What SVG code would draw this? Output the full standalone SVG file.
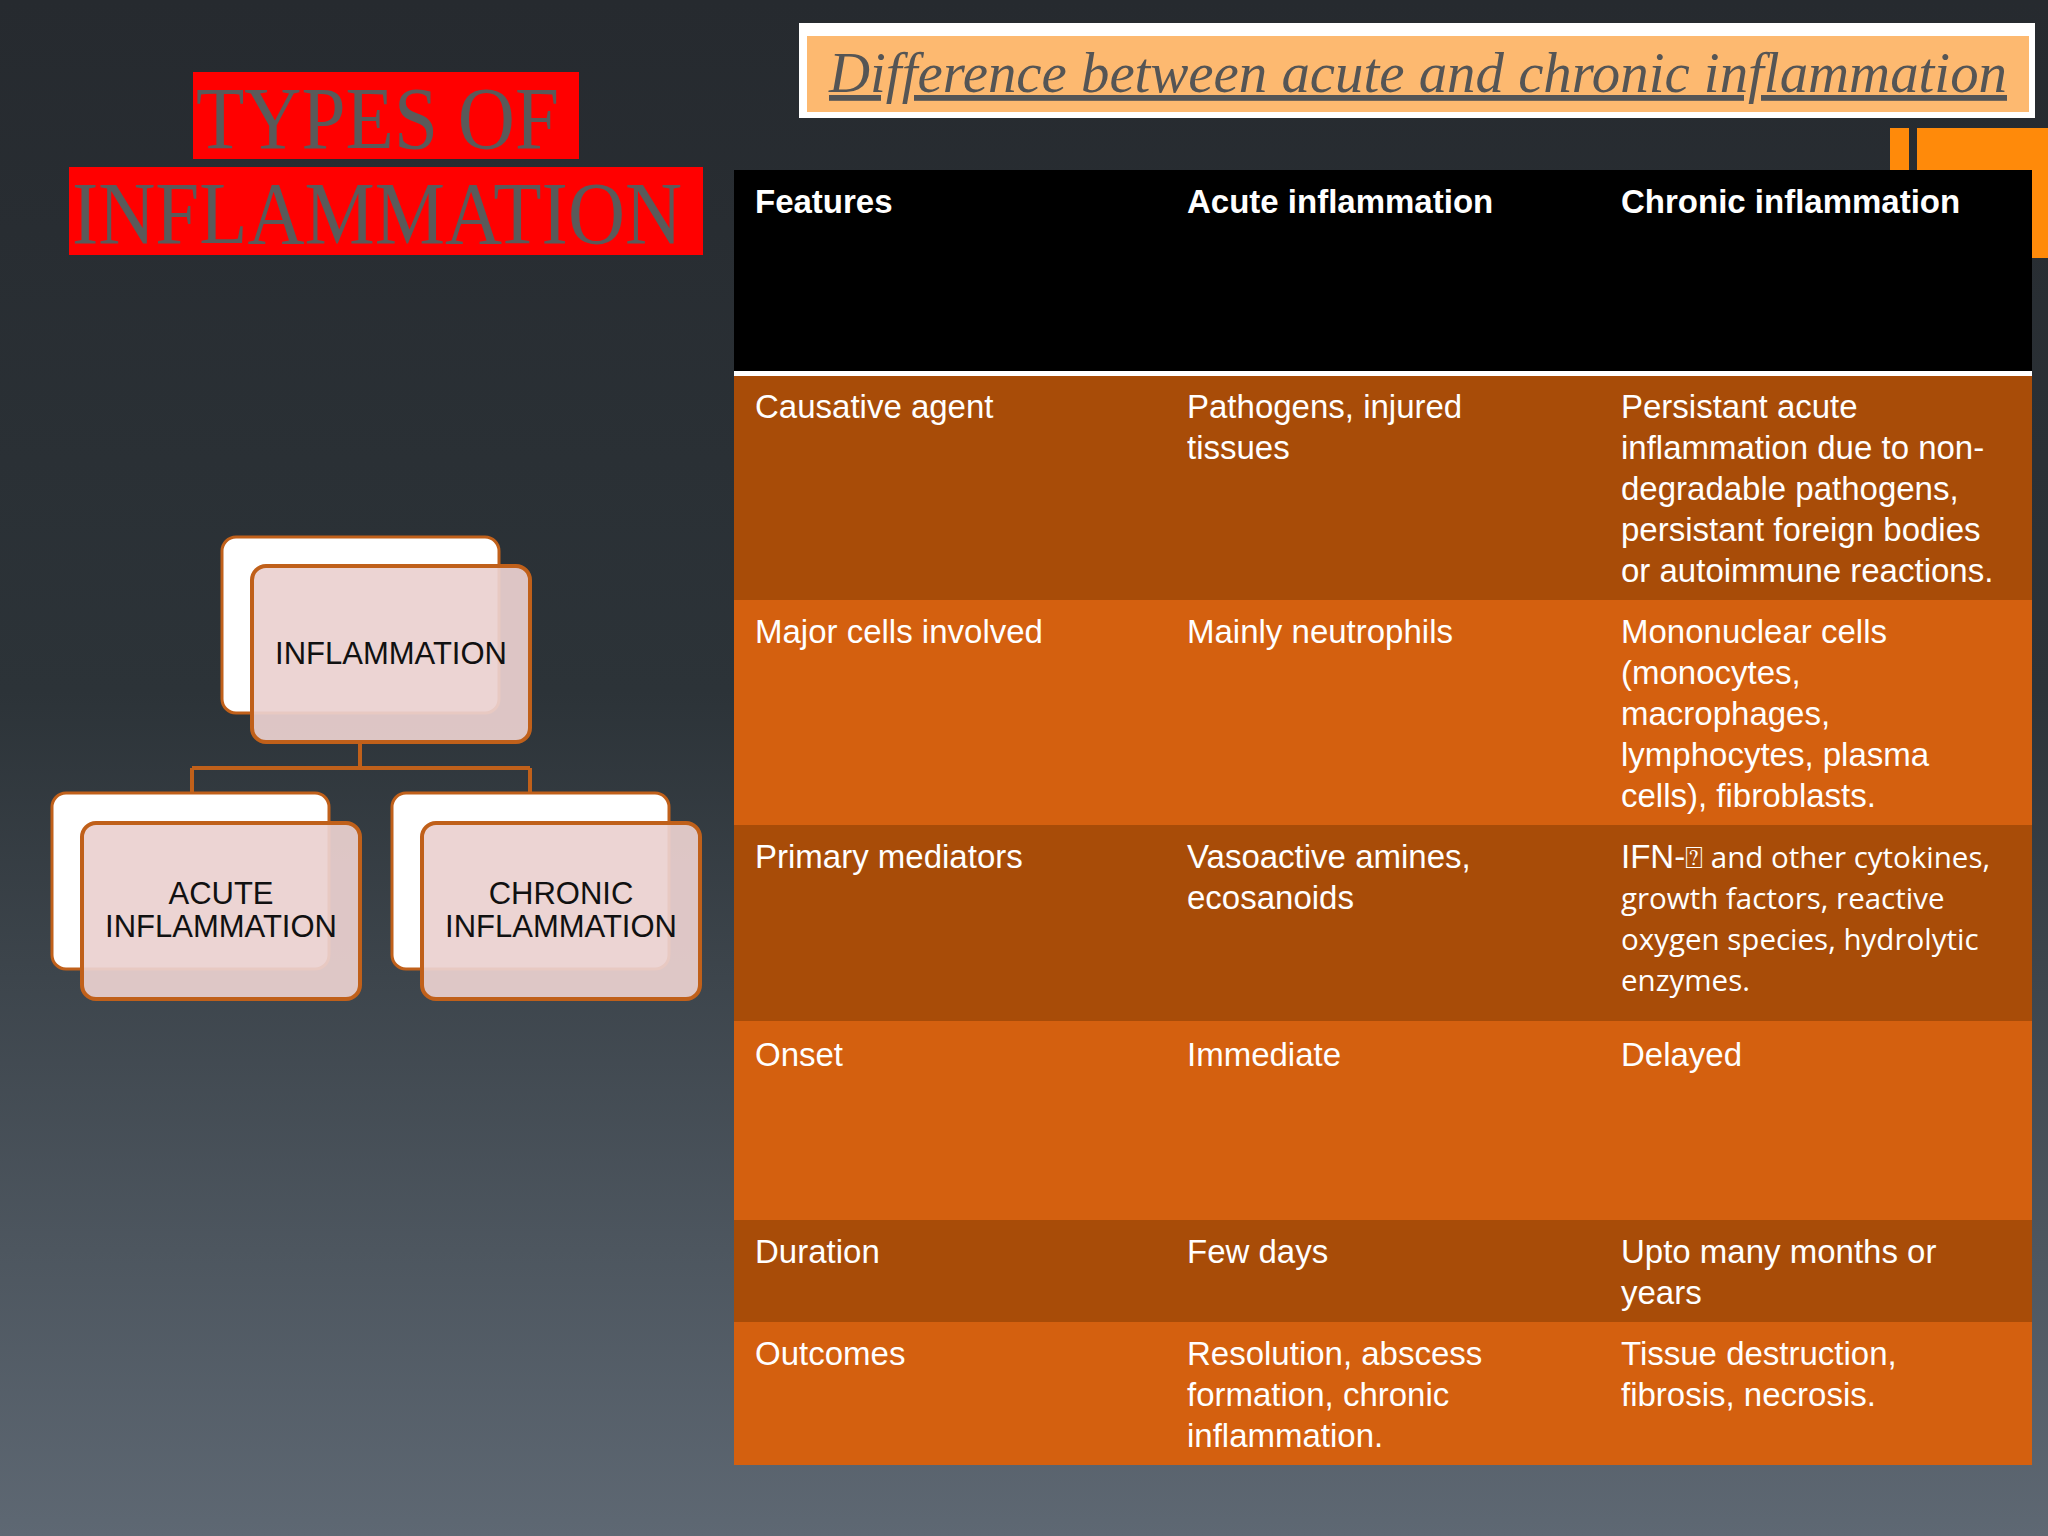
<svg xmlns="http://www.w3.org/2000/svg" width="2048" height="1536" viewBox="0 0 2048 1536">
<defs>
<linearGradient id="bg" x1="0" y1="0" x2="0" y2="1">
<stop offset="0" stop-color="#262a2f"/><stop offset="0.45" stop-color="#2c3338"/><stop offset="1" stop-color="#5e6873"/>
</linearGradient>
<style>
.t{font-family:"Liberation Sans",Arial,sans-serif;font-size:33px;fill:#fff}
.h{font-weight:bold}
.o{font-family:"Open Sans","Liberation Sans",sans-serif;font-size:29.5px;fill:#fff}
.back{fill:#fff;stroke:#C0601A;stroke-width:3}
.front{fill:#EBD1D0;fill-opacity:0.93;stroke:#C0601A;stroke-width:4}
.nt{font-family:"Liberation Sans",Arial,sans-serif;font-size:31px;fill:#111;text-anchor:middle}
.tt{font-family:"Liberation Serif","Times New Roman",serif;font-size:88px;fill:#5a5a5a}
</style>
</defs>
<rect width="2048" height="1536" fill="url(#bg)"/>
<rect x="193" y="72" width="386" height="87" fill="#ff0000"/>
<rect x="69" y="167" width="634" height="88" fill="#ff0000"/>
<text class="tt" x="196" y="148" textLength="363" lengthAdjust="spacingAndGlyphs">TYPES OF</text>
<text class="tt" x="72" y="243" textLength="610" lengthAdjust="spacingAndGlyphs">INFLAMMATION</text>
<g id="title">
<rect x="799" y="23" width="1236" height="95" fill="#fff"/>
<rect x="807" y="36" width="1222" height="76" fill="#FDB970"/>
<text x="829" y="92" font-family="'Liberation Serif',serif" font-style="italic" font-size="58" fill="#555" text-decoration="underline" textLength="1178" lengthAdjust="spacingAndGlyphs">Difference between acute and chronic inflammation</text>
</g>
<rect x="1890" y="128" width="19" height="130" fill="#FF8A0A"/>
<rect x="1917" y="128" width="131" height="130" fill="#FF8A0A"/>
<g id="table">
<rect x="734" y="170" width="1298" height="201" fill="#000"/>
<rect x="734" y="371" width="1298" height="5" fill="#fff"/>
<rect x="734" y="376" width="1298" height="224" fill="#A84C08"/>
<rect x="734" y="600" width="1298" height="225" fill="#D4600F"/>
<rect x="734" y="825" width="1298" height="196" fill="#A84C08"/>
<rect x="734" y="1021" width="1298" height="199" fill="#D4600F"/>
<rect x="734" y="1220" width="1298" height="102" fill="#A84C08"/>
<rect x="734" y="1322" width="1298" height="143" fill="#D4600F"/>
<text class="t h" x="755" y="213">Features</text>
<text class="t h" x="1187" y="213">Acute inflammation</text>
<text class="t h" x="1621" y="213">Chronic inflammation</text>
<text class="t" x="755" y="418">Causative agent</text>
<text class="t" x="1187" y="418">Pathogens, injured<tspan x="1187" dy="41">tissues</tspan></text>
<text class="t" x="1621" y="418">Persistant acute<tspan x="1621" dy="41">inflammation due to non-</tspan><tspan x="1621" dy="41">degradable pathogens,</tspan><tspan x="1621" dy="41">persistant foreign bodies</tspan><tspan x="1621" dy="41">or autoimmune reactions.</tspan></text>
<text class="t" x="755" y="643">Major cells involved</text>
<text class="t" x="1187" y="643">Mainly neutrophils</text>
<text class="t" x="1621" y="643">Mononuclear cells<tspan x="1621" dy="41">(monocytes,</tspan><tspan x="1621" dy="41">macrophages,</tspan><tspan x="1621" dy="41">lymphocytes, plasma</tspan><tspan x="1621" dy="41">cells), fibroblasts.</tspan></text>
<text class="t" x="755" y="868">Primary mediators</text>
<text class="t" x="1187" y="868">Vasoactive amines,<tspan x="1187" dy="41">ecosanoids</tspan></text>
<text class="o" x="1621" y="868"><tspan font-family="'Liberation Sans',sans-serif" font-size="33">IFN-</tspan>⍰ and other cytokines,<tspan x="1621" dy="41">growth factors, reactive</tspan><tspan x="1621" dy="41">oxygen species, hydrolytic</tspan><tspan x="1621" dy="41">enzymes.</tspan></text>
<text class="t" x="755" y="1066">Onset</text>
<text class="t" x="1187" y="1066">Immediate</text>
<text class="t" x="1621" y="1066">Delayed</text>
<text class="t" x="755" y="1263">Duration</text>
<text class="t" x="1187" y="1263">Few days</text>
<text class="t" x="1621" y="1263">Upto many months or<tspan x="1621" dy="41">years</tspan></text>
<text class="t" x="755" y="1365">Outcomes</text>
<text class="t" x="1187" y="1365">Resolution, abscess<tspan x="1187" dy="41">formation, chronic</tspan><tspan x="1187" dy="41">inflammation.</tspan></text>
<text class="t" x="1621" y="1365">Tissue destruction,<tspan x="1621" dy="41">fibrosis, necrosis.</tspan></text>
</g>
<g id="connectors" fill="none" stroke="#C0601A" stroke-width="4">
<path d="M360 742V768M192 768H530M192 768V794M530 768V794"/>
</g>
<g id="n-inflammation">
<rect class="back" x="222" y="537" width="277" height="176" rx="14"/>
<rect class="front" x="252" y="566" width="278" height="176" rx="14"/>
<text class="nt" x="391" y="664">INFLAMMATION</text>
</g>
<g id="n-acute">
<rect class="back" x="52" y="793" width="277" height="176" rx="14"/>
<rect class="front" x="82" y="823" width="278" height="176" rx="14"/>
<text class="nt" x="221" y="904">ACUTE<tspan x="221" dy="33">INFLAMMATION</tspan></text>
</g>
<g id="n-chronic">
<rect class="back" x="392" y="793" width="277" height="176" rx="14"/>
<rect class="front" x="422" y="823" width="278" height="176" rx="14"/>
<text class="nt" x="561" y="904">CHRONIC<tspan x="561" dy="33">INFLAMMATION</tspan></text>
</g>
</svg>
